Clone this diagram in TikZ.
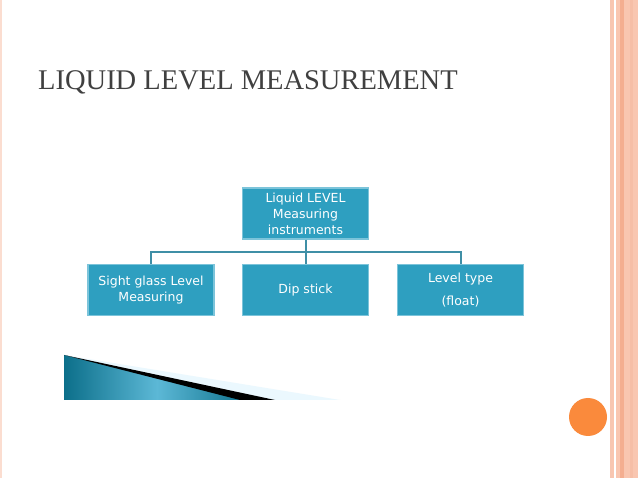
\documentclass[tikz,border=0pt]{standalone}
\usepackage{fontspec}
\setmainfont{Liberation Serif}
\newfontfamily\boxfont{DejaVu Sans}
\begin{document}
\begin{tikzpicture}[x=1pt,y=-1pt,
  box/.style={draw=boxedge,line width=1.2pt,fill=boxfill,text=white,font=\boxfont\fontsize{12.5}{16}\selectfont,align=center,minimum width=126pt,minimum height=51pt,inner sep=0pt},
  conn/.style={draw=connc,line width=2pt}]
\definecolor{boxfill}{HTML}{2E9FC0}
\definecolor{boxedge}{HTML}{7CC4DA}
\definecolor{connc}{HTML}{3F8FA6}
\definecolor{stripe}{HTML}{F9C6B0}
\definecolor{stripedark}{HTML}{F4AE90}
\definecolor{tealdark}{HTML}{0C6F8A}
\definecolor{teallight}{HTML}{5CB8D6}
\definecolor{orng}{HTML}{FA8A3C}
\useasboundingbox (0,0) rectangle (638,478);
\fill[white] (0,0) rectangle (638,478);
% right stripe
\fill[stripe] (610,0) rectangle (638,478);
\fill[stripedark!70] (610,0) rectangle (612,478);
\fill[white] (614,0) rectangle (616,478);
\fill[stripedark] (620,0) rectangle (624,478);
\fill[stripedark!80] (630,0) rectangle (633,478);
\fill[stripe!60] (0,0) rectangle (2,478);
\node[anchor=base west,inner sep=0pt,font=\fontsize{28.5}{32}\selectfont,text=black!75] (title) at (38,90) {LIQUID LEVEL MEASUREMENT};
\node[box] (top) at (305.5,213.5) {Liquid LEVEL\\Measuring\\instruments};
\node[box] (b1) at (151,290) {Sight glass Level\\Measuring};
\node[box] (b2) at (305.5,290) {Dip stick};
\node[box,font=\boxfont\fontsize{12.5}{23}\selectfont] (b3) at (460.5,290) {Level type\\(float)};
\coordinate (j) at (305.5,252);
\draw[conn] (top.south) -- (j);
\draw[conn] (j) -| (b1.north);
\draw[conn] (j) -- (b2.north);
\draw[conn] (j) -| (b3.north);
% triangle
\fill[cyan!8] (64,355) -- (340,400) -- (270,400) -- cycle;
\shade[left color=tealdark, right color=tealdark,middle color=teallight] (64,355) -- (64,400) -- (250,400) -- cycle;
\fill[black] (64,355) -- (275,400) -- (240,400) -- cycle;
\fill[orng] (588,417) circle (19);
\end{tikzpicture}
\end{document}
